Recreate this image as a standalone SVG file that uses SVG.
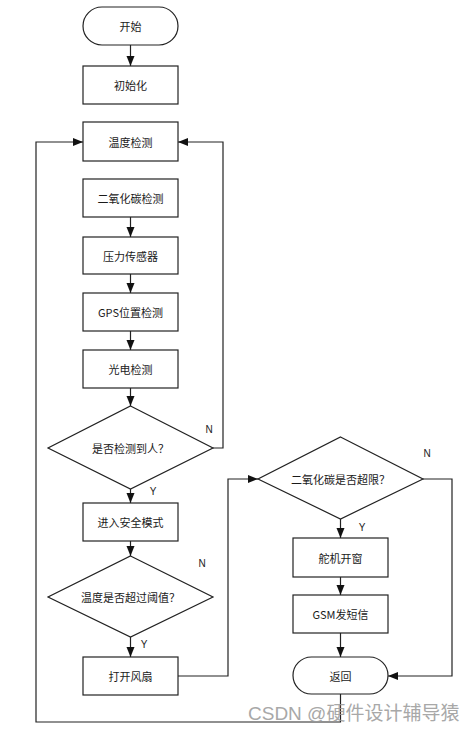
<svg xmlns="http://www.w3.org/2000/svg" width="474" height="732" viewBox="0 0 474 732">
<style>
.box{fill:#fff;stroke:#222;stroke-width:1.2}
.t{font-family:"Noto Sans CJK SC","Liberation Sans",sans-serif;font-size:11px;fill:#1a1a1a;text-anchor:middle;dominant-baseline:central}
.lbl{font-family:"Liberation Sans",sans-serif;font-size:10px;fill:#222;text-anchor:middle;dominant-baseline:central}
.c{fill:none;stroke:#222;stroke-width:1.2}
</style>
<defs>
<marker id="a" markerUnits="userSpaceOnUse" markerWidth="10" markerHeight="10" viewBox="0 0 10 10" refX="10" refY="5" orient="auto">
<path d="M0,1 L10,5 L0,9 Z" fill="#111"/>
</marker>
</defs>
<rect width="474" height="732" fill="#fff"/>
<g id="connectors">
<path class="c" d="M130.5,45 V66" marker-end="url(#a)"/>
<path class="c" d="M130.5,217 V237" marker-end="url(#a)"/>
<path class="c" d="M130.5,274 V293" marker-end="url(#a)"/>
<path class="c" d="M130.5,331 V350" marker-end="url(#a)"/>
<path class="c" d="M130.5,388 V406" marker-end="url(#a)"/>
<path class="c" d="M130.5,489 V503" marker-end="url(#a)"/>
<path class="c" d="M130.5,541 V556" marker-end="url(#a)"/>
<path class="c" d="M130.5,637 V657" marker-end="url(#a)"/>
<path class="c" d="M178,676 H228 V479 H258" marker-end="url(#a)"/>
<path class="c" d="M213,448 H223 V142 H178" marker-end="url(#a)"/>
<path class="c" d="M340.5,694 V722 H36 V142 H83" marker-end="url(#a)"/>
<path class="c" d="M340.5,519 V538" marker-end="url(#a)"/>
<path class="c" d="M340.5,577 V595" marker-end="url(#a)"/>
<path class="c" d="M340.5,633 V657" marker-end="url(#a)"/>
<path class="c" d="M423,479 H452 V676 H388" marker-end="url(#a)"/>
</g>
<g id="start"><rect class="box" x="83" y="7" width="95" height="38" rx="19"/><text class="t" x="130.5" y="26">开始</text></g>
<g id="init"><rect class="box" x="83" y="66" width="95" height="38"/><text class="t" x="130.5" y="85">初始化</text></g>
<g id="temp"><rect class="box" x="83" y="122" width="95" height="39"/><text class="t" x="130.5" y="142">温度检测</text></g>
<g id="co2"><rect class="box" x="83" y="179" width="95" height="38"/><text class="t" x="130.5" y="198">二氧化碳检测</text></g>
<g id="pressure"><rect class="box" x="83" y="237" width="95" height="37"/><text class="t" x="130.5" y="256">压力传感器</text></g>
<g id="gps"><rect class="box" x="83" y="293" width="95" height="38"/><text class="t" x="130.5" y="312">GPS位置检测</text></g>
<g id="photo"><rect class="box" x="83" y="350" width="95" height="38"/><text class="t" x="130.5" y="369">光电检测</text></g>
<g id="d1"><polygon class="box" points="130.5,406 213,448 130.5,489 48,448"/><text class="t" x="130.5" y="448">是否检测到人？</text>
<text class="lbl" x="209" y="429">N</text><text class="lbl" x="153" y="491">Y</text></g>
<g id="safe"><rect class="box" x="83" y="503" width="95" height="38"/><text class="t" x="130.5" y="522">进入安全模式</text></g>
<g id="d2"><polygon class="box" points="130.5,556 213,597 130.5,637 48,597"/><text class="t" x="130.5" y="597">温度是否超过阈值？</text>
<text class="lbl" x="202" y="563">N</text><text class="lbl" x="144" y="644">Y</text></g>
<g id="fan"><rect class="box" x="83" y="657" width="95" height="38"/><text class="t" x="130.5" y="676">打开风扇</text></g>
<g id="d3"><polygon class="box" points="340.5,437 423,479 340.5,519 258,479"/><text class="t" x="340.5" y="479">二氧化碳是否超限？</text>
<text class="lbl" x="427" y="453">N</text><text class="lbl" x="362" y="527">Y</text></g>
<g id="servo"><rect class="box" x="293" y="538" width="95" height="39"/><text class="t" x="340.5" y="557.5">舵机开窗</text></g>
<g id="gsm"><rect class="box" x="293" y="595" width="95" height="38"/><text class="t" x="340.5" y="614">GSM发短信</text></g>
<g id="ret"><rect class="box" x="293" y="657" width="95" height="37" rx="18.5"/><text class="t" x="340.5" y="675.5">返回</text></g>
<text x="248" y="720" font-family="Liberation Sans,'Noto Sans CJK SC',sans-serif" font-size="19" fill="#999" opacity="0.85">CSDN @硬件设计辅导猿</text>
</svg>
